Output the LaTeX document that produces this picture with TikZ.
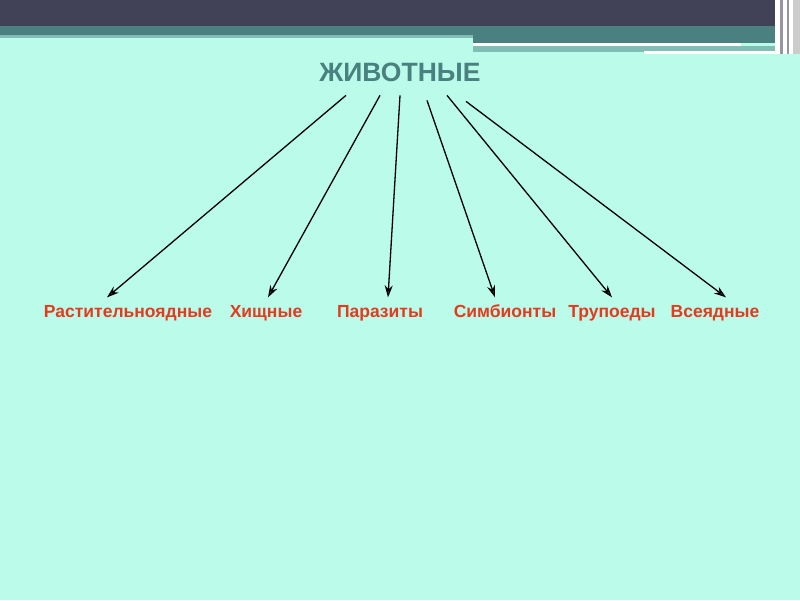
\documentclass[tikz,border=0pt]{standalone}
\usepackage{fontspec}
\setmainfont{Liberation Sans}
\usetikzlibrary{arrows.meta}
\definecolor{aq}{RGB}{186,252,233}
\definecolor{dk}{RGB}{65,65,87}
\definecolor{tl}{RGB}{74,128,128}
\definecolor{lt}{RGB}{128,190,180}
\definecolor{gr}{RGB}{150,150,160}
\definecolor{rd}{RGB}{228,58,30}
\begin{document}
\begin{tikzpicture}[x = 1pt, y = -1pt, line width = 1.3pt,
  kind/.style = {text = rd, font = \bfseries\fontsize{17.5}{20}\selectfont, inner sep = 2pt, text height = 13pt, text depth = 4pt},
  link/.style = {-{Stealth[length = 12pt, width = 8pt, fill = tl!60!black]}}]
\useasboundingbox (0,0) rectangle (800,600);
\fill[aq] (0,0) rectangle (800,600);
\fill[dk] (0,0) rectangle (775,26);
\fill[tl] (0,26) rectangle (775,35);
\fill[lt] (0,35) rectangle (473,38);
\fill[tl] (473,35) rectangle (775,43);
\fill[white] (473,43) rectangle (741,46);
\fill[lt] (473,46) rectangle (775,52);
\fill[white] (644,51) rectangle (775,54);
\fill[white] (775,0) rectangle (800,54);
\fill[gr] (780,0) rectangle (783,54);
\fill[gr] (787,0) rectangle (789,54);
\fill[gray!40] (793,0) rectangle (800,54);
\node[text = tl, font = \bfseries\fontsize{26.5}{30}\selectfont] (animals) at (400,72) {ЖИВОТНЫЕ};
\node[kind] (herb) at (128,312.5) {Растительноядные};
\node[kind] (pred) at (266,312.5) {Хищные};
\node[kind] (paras) at (380,312.5) {Паразиты};
\node[kind] (symb) at (505,312.5) {Симбионты};
\node[kind] (scav) at (612,312.5) {Трупоеды};
\node[kind] (omni) at (715,312.5) {Всеядные};
\foreach \dx/\dy/\to/\tx in {-54/10/herb/-21, -20/10/pred/2, 0/10/paras/8, 27/15/symb/-10, 47/10/scav/0, 66/16/omni/11}
  \draw[link] ([xshift = \dx pt, yshift = -\dy pt]animals.south) -- ([xshift = \tx pt, yshift = 4pt]\to.north);
\end{tikzpicture}
\end{document}
